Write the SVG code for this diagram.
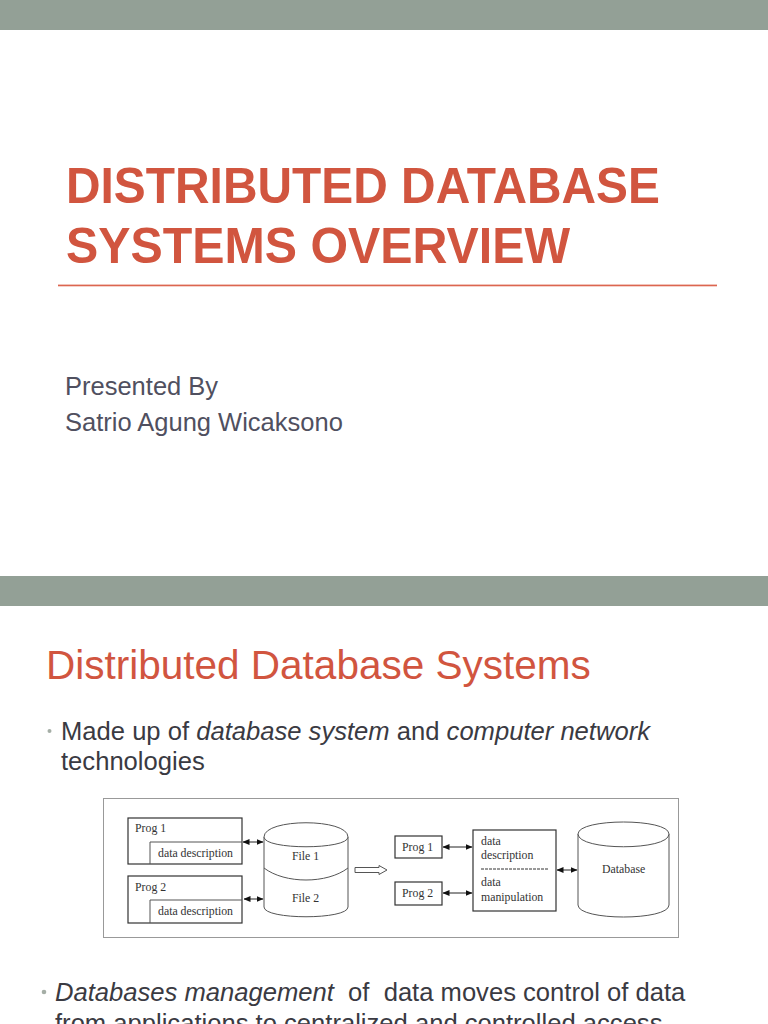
<svg xmlns="http://www.w3.org/2000/svg" width="768" height="1024" viewBox="0 0 768 1024">
<defs>
<marker id="a" viewBox="0 0 7 6" refX="6.500" refY="3" markerWidth="7" markerHeight="6" orient="auto-start-reverse" markerUnits="userSpaceOnUse"><path d="M0 0L7 3L0 6Z" fill="#111"/></marker>
</defs>
<style>
text{font-family:"Liberation Sans",Arial,sans-serif}
.h{font-weight:700;font-size:49.500px;fill:#d1553f}
.s{font-size:25.500px;fill:#50505f}
.b{font-size:25.600px;fill:#3a3a42}
.t{font-family:"Liberation Serif","Times New Roman",serif;font-size:11.800px;fill:#333}
.box{fill:#fff;stroke:#333;stroke-width:1.2}
.in{fill:none;stroke:#555;stroke-width:1}
.cyl{fill:#fff;stroke:#555;stroke-width:1}
.con{fill:none;stroke:#222;stroke-width:1;marker-start:url(#a);marker-end:url(#a)}
</style>
<rect width="768" height="1024" fill="#fff"/>
<rect width="768" height="30" fill="#93a096"/>
<rect y="576" width="768" height="30" fill="#93a096"/>
<text class="h" x="66" y="203" textLength="594" lengthAdjust="spacingAndGlyphs">DISTRIBUTED DATABASE</text>
<text class="h" x="66" y="263" textLength="504" lengthAdjust="spacingAndGlyphs">SYSTEMS OVERVIEW</text>
<rect x="58" y="284.600" width="659" height="1.700" fill="#dc6650"/>
<text class="s" x="65" y="395">Presented By</text>
<text class="s" x="65" y="431">Satrio Agung Wicaksono</text>
<text x="46" y="678.500" font-size="40.500" fill="#d1553f">Distributed Database Systems</text>
<circle cx="49.500" cy="731" r="2" fill="#a5aea6"/>
<text class="b" x="61" y="739.500">Made up of <tspan font-style="italic">database system</tspan> and <tspan font-style="italic">computer network</tspan></text>
<text class="b" x="61" y="770">technologies</text>
<rect x="103.500" y="798.500" width="575" height="139" fill="#fff" stroke="#999" stroke-width="1"/>
<g id="prog1-left"><rect class="box" x="128" y="818" width="114" height="46"/><path class="in" d="M150 864V842H242"/><text class="t" x="135" y="832">Prog 1</text><text class="t" x="158" y="857">data description</text></g>
<g id="prog2-left"><rect class="box" x="128" y="876" width="114" height="47"/><path class="in" d="M150 923V900H242"/><text class="t" x="135" y="891">Prog 2</text><text class="t" x="158" y="915">data description</text></g>
<g id="files"><path class="cyl" d="M264 837C264 818 348 818 348 837V907C348 920 264 920 264 907Z"/><path class="cyl" d="M264 837C264 850 348 850 348 837"/><path class="cyl" d="M264 868C285 884 327 884 348 868"/><text class="t" x="292" y="860">File 1</text><text class="t" x="292" y="902">File 2</text></g>
<g id="prog1-right"><rect class="box" x="395" y="836" width="47" height="22"/><text class="t" x="402" y="851">Prog 1</text></g>
<g id="prog2-right"><rect class="box" x="395" y="882" width="47" height="23"/><text class="t" x="402" y="897">Prog 2</text></g>
<g id="dbms"><rect class="box" x="473" y="830" width="83" height="81"/><text class="t" x="481" y="845">data</text><text class="t" x="481" y="859">description</text><path d="M481 869H548" stroke="#333" stroke-dasharray="3 1" fill="none"/><text class="t" x="481" y="886">data</text><text class="t" x="481" y="901">manipulation</text></g>
<g id="database"><path class="cyl" d="M578 834C578 818 669 818 669 834V905C669 921 578 921 578 905Z"/><path class="cyl" d="M578 834C578 851 669 851 669 834"/><text class="t" x="602" y="873">Database</text></g>
<g id="connectors">
<path class="con" d="M243 842H263" stroke-width="1.300"/><path class="con" d="M244 899H263" stroke-width="1.300"/>
<path class="con" d="M443 847H472"/><path class="con" d="M443 893H472"/><path class="con" d="M557 870H577" stroke-width="1.300"/>
<path d="M355 867.500H379V865.500L387 870L379 874.500V872.500H355Z" fill="#fff" stroke="#555" stroke-width="1"/>
</g>
<circle cx="44" cy="992" r="2.300" fill="#a5aea6"/>
<text class="b" x="55" y="1001" xml:space="preserve"><tspan font-style="italic">Databases management</tspan>  of  data moves control of data</text>
<text class="b" x="55" y="1032">from applications to centralized and controlled access</text>
</svg>
